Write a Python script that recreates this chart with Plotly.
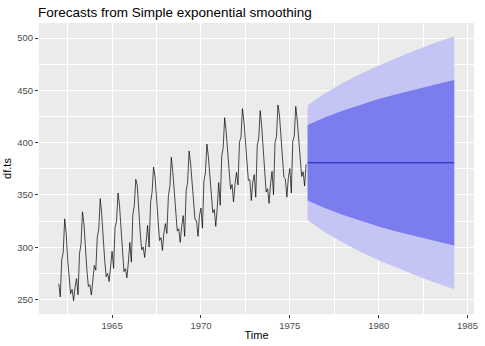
import plotly.graph_objects as go

# Monthly series, Jan 1962 - Dec 1975
start_year = 1962
values = [
    265.1, 252.5, 288.0, 295.2, 327.2, 313.7, 288.0, 269.6, 255.6, 259.7, 248.9, 261.9,
    270.0, 254.7, 293.9, 302.9, 333.9, 322.2, 297.0, 277.7, 262.4, 264.2, 254.3, 269.1,
    282.6, 278.1, 309.6, 317.3, 346.5, 331.2, 305.1, 287.6, 271.8, 275.0, 267.3, 285.3,
    296.1, 279.9, 319.1, 324.9, 351.9, 340.2, 315.9, 293.9, 276.8, 279.5, 270.9, 285.8,
    304.7, 285.8, 331.2, 339.8, 365.0, 359.1, 330.8, 313.7, 297.5, 300.2, 290.3, 309.6,
    320.9, 300.2, 342.9, 352.8, 376.7, 367.7, 345.2, 324.9, 306.5, 309.2, 297.0, 314.1,
    322.7, 313.2, 348.8, 358.2, 386.1, 371.7, 352.4, 333.0, 315.5, 317.7, 304.7, 320.0,
    330.3, 310.5, 353.3, 362.3, 392.0, 380.3, 360.5, 343.8, 326.3, 325.4, 310.5, 330.3,
    337.5, 318.2, 363.2, 370.8, 398.7, 386.6, 368.6, 352.4, 333.0, 336.2, 320.0, 338.0,
    361.8, 340.2, 387.0, 395.1, 423.9, 410.9, 391.1, 375.3, 355.5, 360.0, 343.4, 360.0,
    371.7, 359.6, 400.5, 405.0, 432.5, 420.8, 402.3, 384.8, 364.1, 364.5, 344.7, 362.3,
    369.5, 347.9, 397.4, 404.1, 430.7, 415.8, 396.5, 376.7, 352.8, 356.0, 342.0, 360.9,
    372.6, 350.1, 400.1, 405.9, 436.1, 426.2, 408.6, 390.2, 366.8, 365.4, 347.9, 365.9,
    375.3, 351.9, 401.4, 406.4, 434.7, 421.7, 403.2, 386.1, 367.7, 372.2, 358.7, 379.4,
]
times = [start_year + i / 12 for i in range(len(values))]

# Forecast (point + intervals), read at yearly horizons
fc_time = [1976.0, 1977.0, 1978.0, 1979.0, 1980.0, 1981.0, 1982.0, 1983.0, 1984.0, 1984.25]
fc_mean = [380.8] * len(fc_time)
up95 = [435.8, 447.4, 457.2, 466.0, 473.9, 481.1, 487.9, 494.3, 500.4, 501.8]
lo95 = [325.8, 314.2, 304.4, 295.6, 287.7, 280.5, 273.7, 267.3, 261.2, 259.8]
up80 = [416.8, 424.3, 430.8, 436.5, 441.7, 446.4, 450.8, 455.0, 459.0, 459.9]
lo80 = [344.8, 337.3, 330.8, 325.1, 319.9, 315.2, 310.8, 306.6, 302.6, 301.7]

x_ticks = [1965, 1970, 1975, 1980, 1985]
y_ticks = [250, 300, 350, 400, 450, 500]

fig = go.Figure()
fig.add_trace(go.Scatter(x=fc_time + fc_time[::-1], y=up95 + lo95[::-1], fill="toself",
                         fillcolor="#C4C5F5", line=dict(width=0), mode="lines",
                         hoverinfo="skip", showlegend=False))
fig.add_trace(go.Scatter(x=fc_time + fc_time[::-1], y=up80 + lo80[::-1], fill="toself",
                         fillcolor="#7B7CEE", line=dict(width=0), mode="lines",
                         hoverinfo="skip", showlegend=False))
fig.add_trace(go.Scatter(x=fc_time, y=fc_mean, mode="lines",
                         line=dict(color="#2222B8", width=1), showlegend=False))
fig.add_trace(go.Scatter(x=times, y=values, mode="lines",
                         line=dict(color="black", width=0.7), showlegend=False))

xmin, xmax = 1962.0, 1984.25
ymin, ymax = 248.85, 501.8
xpad = (xmax - xmin) * 0.05
ypad = (ymax - ymin) * 0.05

axis_common = dict(
    showgrid=True, gridcolor="white", gridwidth=1.1,
    zeroline=False, showline=False,
    ticks="outside", ticklen=3, tickcolor="#333333", tickwidth=1,
    tickfont=dict(family="Liberation Sans, Arial", size=9.5, color="#4D4D4D"),
    minor=dict(showgrid=True, gridcolor="white", gridwidth=0.5, ticks=""),
)

fig.update_layout(
    width=485, height=346,
    margin=dict(l=38, r=7, t=23, b=32),
    paper_bgcolor="white", plot_bgcolor="#EBEBEB",
    title=dict(text="Forecasts from Simple exponential smoothing", x=38 / 485, xanchor="left",
               y=1 - 12 / 346, yanchor="middle",
               font=dict(family="Liberation Sans, Arial", size=13.5, color="black")),
    xaxis=dict(range=[xmin - xpad, xmax + xpad], tickvals=x_ticks,
               title=dict(text="Time", standoff=0,
                          font=dict(family="Liberation Sans, Arial", size=11, color="black")),
               **axis_common),
    yaxis=dict(range=[ymin - ypad, ymax + ypad], tickvals=y_ticks,
               title=dict(text="df.ts", standoff=3,
                          font=dict(family="Liberation Sans, Arial", size=11, color="black")),
               **axis_common),
)
fig.update_xaxes(minor=dict(tickvals=[1962.5, 1967.5, 1972.5, 1977.5, 1982.5]))
fig.update_yaxes(minor=dict(tickvals=[275, 325, 375, 425, 475]))

fig.write_html("out.html")
